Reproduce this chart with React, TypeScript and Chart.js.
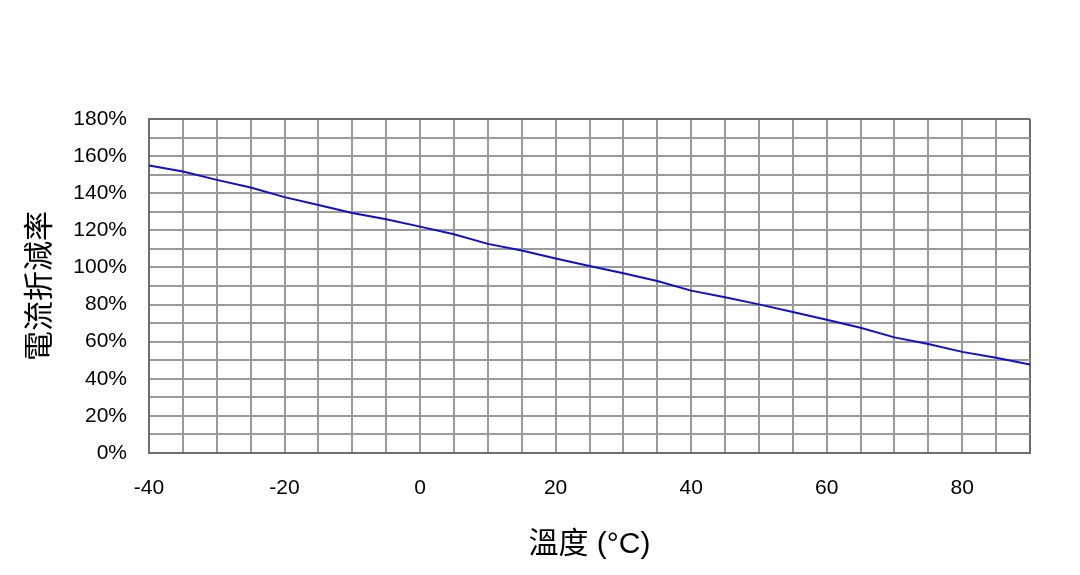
import React, { useEffect, useRef } from "react";
import { Chart, registerables } from "chart.js";

Chart.register(...registerables);

const temperatures = [-40, -35, -30, -25, -20, -15, -10, -5, 0, 5, 10, 15, 20, 25, 30, 35, 40, 45, 50, 55, 60, 65, 70, 75, 80, 85, 90];
const deratingPercent = [155, 151.7, 147.2, 143.1, 137.9, 133.7, 129.3, 126, 122, 117.9, 112.7, 109.1, 104.8, 100.8, 96.9, 92.7, 87.5, 83.9, 80.1, 76, 71.8, 67.5, 62.3, 58.7, 54.5, 51.3, 47.7];
const yTitle = "電流折減率";
const xTitle = "溫度 (°C)";

const FONT = "'Liberation Sans', Arial, 'Noto Sans CJK TC', sans-serif";

export default function App() {
  const ref = useRef<HTMLCanvasElement | null>(null);

  useEffect(() => {
    if (!ref.current) return;
    const chart = new Chart(ref.current, {
      type: "line",
      data: {
        datasets: [
          {
            data: temperatures.map((t, i) => ({ x: t, y: deratingPercent[i] })),
            borderColor: "#1010cc",
            borderWidth: 2,
            pointRadius: 0,
            tension: 0,
            fill: false,
          },
        ],
      },
      options: {
        animation: false,
        responsive: false,
        devicePixelRatio: 1,
        layout: { padding: { top: 119, right: 50, bottom: 0, left: 0 } },
        plugins: { legend: { display: false }, tooltip: { enabled: false } },
        scales: {
          x: {
            type: "linear",
            min: -40,
            max: 90,
            afterFit: (s: any) => {
              s.height = 122;
            },
            ticks: {
              stepSize: 5,
              autoSkip: false,
              maxRotation: 0,
              padding: 23,
              color: "#000",
              font: { family: FONT, size: 21 },
              callback: (v: any) => (Number(v) % 20 === 0 ? String(v) : ""),
            },
            grid: {
              drawTicks: false,
              lineWidth: 2,
              color: (ctx: any) => (ctx.tick && ctx.tick.value === 90 ? "#6e6e6e" : "#9a9a9a"),
            },
            border: { display: true, color: "#6e6e6e", width: 2 },
            title: {
              display: true,
              text: xTitle,
              color: "#000",
              font: { family: FONT, size: 30 },
              padding: { top: 0, bottom: 12 },
            },
          },
          y: {
            min: 0,
            max: 180,
            afterFit: (s: any) => {
              s.width = 149;
            },
            ticks: {
              stepSize: 10,
              autoSkip: false,
              padding: 22,
              color: "#000",
              font: { family: FONT, size: 21 },
              callback: (v: any) => (Number(v) % 20 === 0 ? v + "%" : ""),
            },
            grid: {
              drawTicks: false,
              lineWidth: 2,
              color: (ctx: any) => (ctx.tick && ctx.tick.value === 180 ? "#6e6e6e" : "#9a9a9a"),
            },
            border: { display: true, color: "#6e6e6e", width: 2 },
            title: {
              display: true,
              text: yTitle,
              color: "#000",
              font: { family: FONT, size: 30 },
              padding: { top: 23, bottom: 0 },
            },
          },
        },
      },
    });
    return () => chart.destroy();
  }, []);

  return (
    <div style={{ position: "fixed", left: 0, top: 0, width: 1080, height: 575, background: "#fff" }}>
      <canvas ref={ref} width={1080} height={575} style={{ width: 1080, height: 575, display: "block" }} />
    </div>
  );
}
